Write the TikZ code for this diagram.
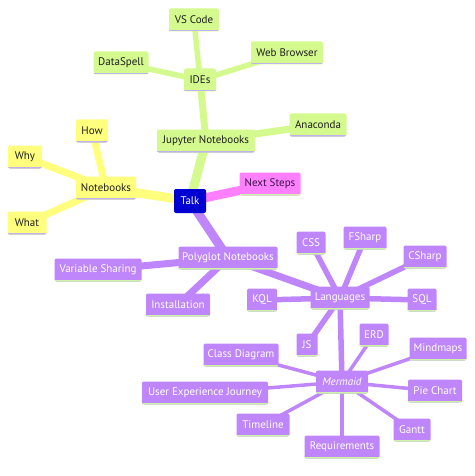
\documentclass[tikz,border=0pt]{standalone}
\usepackage{fontspec}
\setmainfont{PT Sans}
\usetikzlibrary{backgrounds}
\definecolor{cgreen}{RGB}{212,249,142}
\definecolor{cyellow}{RGB}{255,255,125}
\definecolor{cpink}{RGB}{255,128,255}
\definecolor{cpurple}{RGB}{190,134,250}
\definecolor{cblue}{RGB}{0,0,210}
\definecolor{shlav}{RGB}{190,180,235}
\definecolor{shgrn}{RGB}{205,242,170}
\definecolor{ctext}{RGB}{30,30,30}
\definecolor{cpinktext}{RGB}{60,20,70}
\tikzset{
  mm/.style={rectangle, rounded corners=2pt, inner sep=0pt, minimum height=23pt,
    font=\fontsize{11}{13}\selectfont},
  shadowline/.style={path picture={\draw[#1, line width=1.6pt]
    ([yshift=0.8pt]path picture bounding box.south west) --
    ([yshift=0.8pt]path picture bounding box.south east);}},
  grn/.style={mm, fill=cgreen, text=ctext, shadowline=shlav},
  yel/.style={mm, fill=cyellow, text=ctext, shadowline=shlav},
  pnk/.style={mm, fill=cpink, text=cpinktext, shadowline=shgrn},
  pur/.style={mm, fill=cpurple, text=white, shadowline=shgrn},
  root/.style={mm, fill=cblue, text=white, minimum height=24pt},
  e0/.style={line width=9pt},
  e1/.style={line width=7pt},
  e2/.style={line width=5.5pt},
  e3/.style={line width=3.5pt},
}
\begin{document}
\begin{tikzpicture}[x=1pt,y=-1pt]
\useasboundingbox (0,0) rectangle (474,476);
% nodes
\node[root, minimum width=32pt] (talk) at (190,201) {Talk};
\node[yel, minimum width=60pt] (notebooks) at (106,188) {Notebooks};
\node[yel, minimum width=32pt] (how) at (92,131) {How};
\node[yel, minimum width=34pt] (why) at (25,157) {Why};
\node[yel, minimum width=39pt] (what) at (27,223) {What};
\node[grn, minimum width=98pt] (jupyter) at (206,141) {Jupyter Notebooks};
\node[grn, minimum width=32pt] (ides) at (200,80) {IDEs};
\node[grn, minimum width=50pt] (vscode) at (194,20) {VS Code};
\node[grn, minimum width=55pt] (dataspell) at (121,63) {DataSpell};
\node[grn, minimum width=72pt] (web) at (287,53) {Web Browser};
\node[grn, minimum width=57pt] (anaconda) at (318,125) {Anaconda};
\node[pnk, minimum width=61pt] (next) at (270,184) {Next Steps};
\node[pur, minimum width=99pt] (poly) at (228,258) {Polyglot Notebooks};
\node[pur, minimum width=87pt] (varshare) at (98,270) {Variable Sharing};
\node[pur, minimum width=64pt] (install) at (178,305) {Installation};
\node[pur, minimum width=59pt] (lang) at (340,298) {Languages};
\node[pur, minimum width=29pt] (css) at (311,243) {CSS};
\node[pur, minimum width=43pt] (fsharp) at (365,238) {FSharp};
\node[pur, minimum width=43pt] (csharp) at (425,257) {CSharp};
\node[pur, minimum width=30pt] (kql) at (262,300) {KQL};
\node[pur, minimum width=29pt] (sql) at (422,300) {SQL};
\node[pur, minimum width=21pt] (js) at (307,345) {JS};
\node[pur, minimum width=52pt] (mermaid) at (342,382) {\itshape Mermaid};
\node[pur, minimum width=29pt] (erd) at (374,335) {ERD};
\node[pur, minimum width=57pt] (mindmaps) at (438,349) {Mindmaps};
\node[pur, minimum width=54pt] (pie) at (435,391) {Pie Chart};
\node[pur, minimum width=37pt] (gantt) at (412,430) {Gantt};
\node[pur, minimum width=75pt] (req) at (342,447) {Requirements};
\node[pur, minimum width=53pt] (timeline) at (263,425) {Timeline};
\node[pur, minimum width=126pt] (uxj) at (205,393) {User Experience Journey};
\node[pur, minimum width=75pt] (classd) at (241,355) {Class Diagram};
% edges
\begin{scope}[on background layer]
\draw[e0, cyellow] (talk.center) -- (notebooks.center);
\draw[e1, cyellow] (notebooks.center) -- (how.center);
\draw[e1, cyellow] (notebooks.center) -- (why.center);
\draw[e1, cyellow] (notebooks.center) -- (what.center);
\draw[e0, cgreen] (talk.center) -- (jupyter.center);
\draw[e1, cgreen] (jupyter.center) -- (ides.center);
\draw[e1, cgreen] (jupyter.center) -- (anaconda.center);
\draw[e2, cgreen] (ides.center) -- (vscode.center);
\draw[e2, cgreen] (ides.center) -- (dataspell.center);
\draw[e2, cgreen] (ides.center) -- (web.center);
\draw[e0, cpink] (talk.center) -- (next.center);
\draw[e0, cpurple] (talk.center) -- (poly.center);
\draw[e1, cpurple] (poly.center) -- (varshare.center);
\draw[e1, cpurple] (poly.center) -- (install.center);
\draw[e1, cpurple] (poly.center) -- (lang.center);
\draw[e2, cpurple] (lang.center) -- (css.center);
\draw[e2, cpurple] (lang.center) -- (fsharp.center);
\draw[e2, cpurple] (lang.center) -- (csharp.center);
\draw[e2, cpurple] (lang.center) -- (kql.center);
\draw[e2, cpurple] (lang.center) -- (sql.center);
\draw[e2, cpurple] (lang.center) -- (js.center);
\draw[e2, cpurple] (lang.center) -- (mermaid.center);
\draw[e3, cpurple] (mermaid.center) -- (erd.center);
\draw[e3, cpurple] (mermaid.center) -- (mindmaps.center);
\draw[e3, cpurple] (mermaid.center) -- (pie.center);
\draw[e3, cpurple] (mermaid.center) -- (gantt.center);
\draw[e3, cpurple] (mermaid.center) -- (req.center);
\draw[e3, cpurple] (mermaid.center) -- (timeline.center);
\draw[e3, cpurple] (mermaid.center) -- (uxj.center);
\draw[e3, cpurple] (mermaid.center) -- (classd.center);
\end{scope}
\end{tikzpicture}
\end{document}
